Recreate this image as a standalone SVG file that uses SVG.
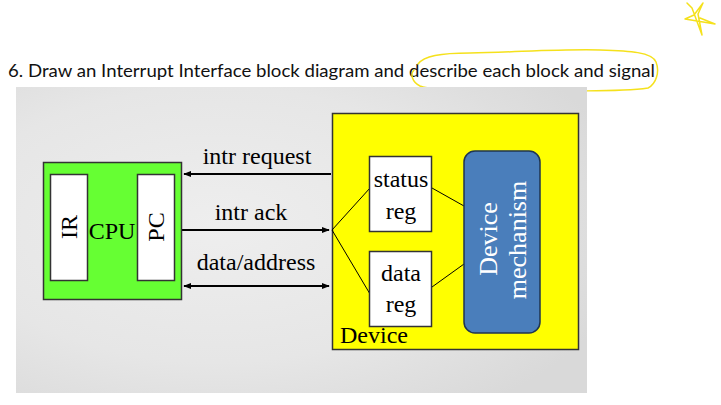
<svg xmlns="http://www.w3.org/2000/svg" width="721" height="405" viewBox="0 0 721 405">
<style>
.t{font-family:"Liberation Serif","Times New Roman",serif;font-size:24px;fill:#000}
.box{fill:#fff;stroke:#333;stroke-width:1.5}
.wire{stroke:#000;stroke-width:2;fill:none}
.fan{stroke:#000;stroke-width:1;fill:none}
.ink{fill:none;stroke:#f5e11c;stroke-width:1.5;stroke-linecap:round;stroke-linejoin:round}
</style>
<defs>
<radialGradient id="bg" cx="0.35" cy="0.45" r="0.75">
<stop offset="0" stop-color="#eeeeee"/>
<stop offset="0.6" stop-color="#e6e6e6"/>
<stop offset="1" stop-color="#d9d9d9"/>
</radialGradient>
<marker id="ah" viewBox="0 0 10 10" refX="9" refY="5" markerWidth="4" markerHeight="4" orient="auto-start-reverse" markerUnits="strokeWidth">
<path d="M0,1 L10,5 L0,9 z" fill="#000"/>
</marker>
</defs>
<rect width="721" height="405" fill="#fff"/>
<text x="8" y="77" font-family="Lato,'Open Sans',sans-serif" font-size="17" fill="#111" textLength="647" lengthAdjust="spacingAndGlyphs">6.  Draw an Interrupt Interface block diagram and describe each block and signal</text>
<path class="ink" d="M418,64 C424,56 440,53 470,53 C520,52 560,49 600,50 C630,51 652,52 656,62 C660,72 656,84 648,88 C620,92 560,91 500,90 C460,89 430,90 420,86 C412,82 410,74 414,70"/>
<path class="ink" d="M687,3 L692,8 L702,35 L698,14 L703,3 L694,15 L685,19 L715,24 L700,18"/>
<rect x="16" y="87" width="571" height="306" fill="url(#bg)"/>
<g id="connectors">
<line class="wire" x1="331" y1="174" x2="184" y2="174" marker-end="url(#ah)"/>
<line class="wire" x1="182" y1="230" x2="329" y2="230" marker-end="url(#ah)"/>
<line class="wire" x1="184" y1="286" x2="329" y2="286" marker-start="url(#ah)" marker-end="url(#ah)"/>
<text class="t" x="257" y="164" text-anchor="middle">intr request</text>
<text class="t" x="251" y="220" text-anchor="middle">intr ack</text>
<text class="t" x="256" y="270" text-anchor="middle">data/address</text>
</g>
<g id="cpu">
<rect x="43.5" y="162.5" width="138" height="137" fill="#66ff33" stroke="#333" stroke-width="1.5"/>
<g id="ir">
<rect class="box" x="50.5" y="174.5" width="37" height="106"/>
<text class="t" transform="translate(77,227) rotate(-90)" text-anchor="middle">IR</text>
</g>
<g id="pc">
<rect class="box" x="137.5" y="174.5" width="37" height="106"/>
<text class="t" transform="translate(164,227) rotate(-90)" text-anchor="middle">PC</text>
</g>
<text class="t" x="112" y="239" text-anchor="middle">CPU</text>
</g>
<g id="device">
<rect x="332.5" y="113.5" width="246" height="236" fill="#ffff00" stroke="#333" stroke-width="1.5"/>
<text class="t" x="340" y="343">Device</text>
<path class="fan" d="M370,188 L332,230 L370,294"/>
<path class="fan" d="M432,188 L464,206 M432,287 L464,264"/>
<g id="status-reg">
<rect class="box" x="369.5" y="156.5" width="62" height="75"/>
<text class="t" x="401" y="187" text-anchor="middle">status</text>
<text class="t" x="401" y="219" text-anchor="middle">reg</text>
</g>
<g id="data-reg">
<rect class="box" x="369.5" y="251.5" width="62" height="75"/>
<text class="t" x="401" y="281" text-anchor="middle">data</text>
<text class="t" x="401" y="312" text-anchor="middle">reg</text>
</g>
<g id="device-mechanism">
<rect x="464" y="151" width="76" height="182" rx="11" fill="#4a7ebb" stroke="#1f3550" stroke-width="1.5"/>
<text class="t" style="fill:#fff;font-size:26px" transform="translate(497,239) rotate(-90)" text-anchor="middle">Device</text>
<text class="t" style="fill:#fff;font-size:26px" transform="translate(526,240) rotate(-90)" text-anchor="middle">mechanism</text>
</g>
</g>
</svg>
